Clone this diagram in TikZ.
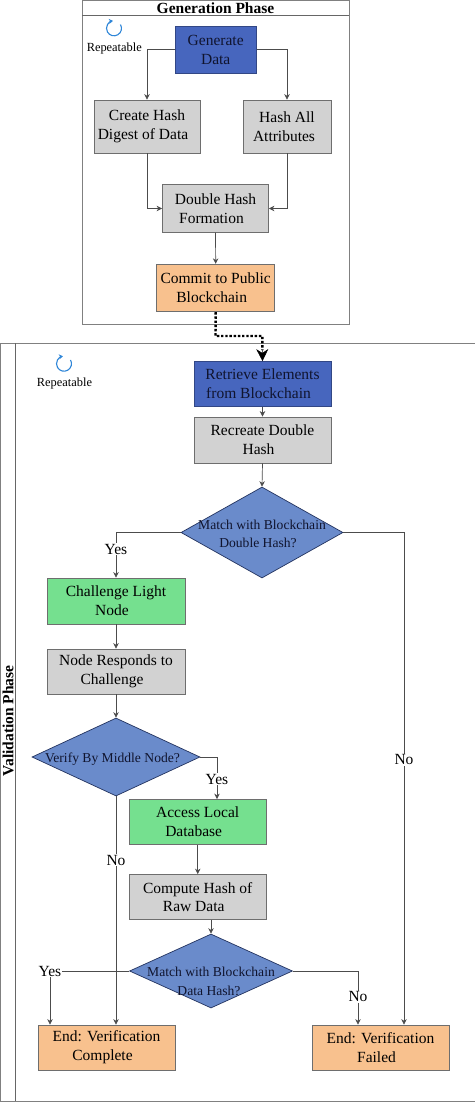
\documentclass[tikz,border=0pt]{standalone}
\usepackage{fontspec}
\setmainfont{Liberation Serif}
\usetikzlibrary{shapes.geometric,arrows.meta}
\definecolor{bluedark}{HTML}{4766BE}
\definecolor{bluedia}{HTML}{6A8BCB}
\definecolor{boxgray}{HTML}{D2D2D2}
\definecolor{boxorange}{HTML}{F8C18E}
\definecolor{boxgreen}{HTML}{75E08F}
\definecolor{edgegray}{HTML}{6E6E6E}
\definecolor{framegray}{HTML}{808080}
\definecolor{iconblue}{HTML}{2F86D8}
\definecolor{inkdark}{HTML}{10142E}
\newcommand{\DT}[2]{\makebox[0pt]{\smash{\raisebox{#1pt}{\begin{tabular}{@{}c@{}}#2\end{tabular}}}}}
\newcommand{\SH}[1]{\kern#1pt}
\tikzset{
  x=1pt,y=-1pt,
  flowbox/.style={draw=edgegray,line width=0.8pt,inner sep=0pt,align=center,
    font=\fontsize{15.5}{18.7}\selectfont,text=black},
  bluebox/.style={flowbox,fill=bluedark,draw=bluedark!70!black,text=inkdark},
  graybox/.style={flowbox,fill=boxgray},
  orangebox/.style={flowbox,fill=boxorange},
  greenbox/.style={flowbox,fill=boxgreen},
  decision/.style={diamond,draw=bluedark!50!black,line width=0.7pt,fill=bluedia,inner sep=0pt,
    font=\fontsize{13.6}{18.7}\selectfont,text=inkdark},
  link/.style={draw=black!70,line width=0.7pt,-{Stealth[length=5.5pt,width=5.5pt]}},
  branch/.style={fill=white,inner sep=1pt,font=\fontsize{15.5}{18}\selectfont},
  frame/.style={draw=framegray,line width=1pt},
  divider/.style={draw=black!60,line width=0.7pt},
  repeattext/.style={font=\fontsize{12.4}{14}\selectfont,inner sep=0pt},
  phase/.style={font=\bfseries\fontsize{15.5}{18}\selectfont,inner sep=0pt},
  repeaticon/.style={draw=iconblue,line width=1.1pt,-{Stealth[length=4pt,width=5pt]}},
  handoff/.style={draw=black,line width=2.4pt,dash pattern=on 2.4pt off 1.8pt},
}
\begin{document}
\begin{tikzpicture}
\useasboundingbox (0,0) rectangle (474,1102);
\fill[white] (0,0) rectangle (474,1102);

% frames
\draw[frame] (82,0.7) rectangle (349,324);
\draw[divider] (82,15.3) -- (349,15.3);
\node[phase] (gentitle) at (215.5,8.5) {Generation Phase};
\draw[frame] (474.5,343) -- (0.7,343) -- (0.7,1101) -- (474.5,1101);
\draw[divider] (15.5,343) -- (15.5,1101);
\node[phase,rotate=90] (valtitle) at (8,721) {Validation Phase};

% repeat icons
\draw[repeaticon] (114,28.3) ++(30:7.5pt) arc[start angle=30,end angle=-262,radius=7.5pt];
\node[repeattext] (rep1) at (114.3,48.5) {Repeatable};
\draw[repeaticon] (64,363.7) ++(30:7.5pt) arc[start angle=30,end angle=-262,radius=7.5pt];
\node[repeattext] (rep2) at (64.5,384) {Repeatable};

% generation nodes
\node[bluebox,minimum width=81.5pt,minimum height=47.5pt] (gen) at (215.7,49.7) {Generate\\Data};
\node[graybox,minimum width=106pt,minimum height=53pt] (hashd) at (147,126.5) {Create Hash\\Digest of Data\SH{8}};
\node[graybox,minimum width=88pt,minimum height=53pt] (hasha) at (287,126.5) {Hash All\\Attributes\SH{6}};
\node[graybox,minimum width=106pt,minimum height=47.5pt] (dbl) at (215.5,208.5) {Double Hash\\Formation\SH{8}};
\node[orangebox,minimum width=118pt,minimum height=47.5pt] (commit) at (215.7,288) {Commit to Public\\Blockchain\SH{8}};

% validation nodes
\node[bluebox,minimum width=137pt,minimum height=45pt] (retr) at (262.5,384) {Retrieve Elements\\from Blockchain\SH{8}};
\node[graybox,minimum width=137pt,minimum height=46pt] (recr) at (262.5,440) {Recreate Double\\Hash\SH{8}};
\node[decision,minimum width=162pt,minimum height=91pt] (d1) at (262,532.5) {\DT{-6}{Match with Blockchain\\Double Hash?\SH{8}}};
\node[greenbox,minimum width=138pt,minimum height=46pt] (chal) at (116,601) {Challenge Light\\Node\SH{8}};
\node[graybox,minimum width=138pt,minimum height=45pt] (resp) at (116,671.5) {Node Responds to\\Challenge\SH{8}};
\node[decision,minimum width=168pt,minimum height=78pt] (d2) at (116,757) {\DT{-5}{Verify By Middle Node?\SH{7}}};
\node[greenbox,minimum width=137pt,minimum height=45pt] (acc) at (197.7,822) {Access Local\\Database\SH{8}};
\node[graybox,minimum width=137pt,minimum height=45pt] (comp) at (197.7,897) {Compute Hash of\\Raw Data\SH{8}};
\node[decision,minimum width=163pt,minimum height=74pt] (d3) at (211,971) {\DT{-14.5}{Match with Blockchain\\Data Hash?\SH{4}}};
\node[orangebox,minimum width=137pt,minimum height=45pt] (endok) at (106.5,1047.5) {End: Verification\\Complete\SH{8}};
\node[orangebox,minimum width=137pt,minimum height=45pt] (endno) at (380.5,1047.5) {End: Verification\\Failed\SH{8}};

% generation connectors
\draw[link] (gen.west) -| (hashd.north);
\draw[link] (gen.east) -| (hasha.north);
\draw[link] (hashd.south) |- (dbl.west);
\draw[link] (hasha.south) |- (dbl.east);
\draw[link] (dbl.south) -- (commit.north);
\coordinate (hand1) at (215.5,336);
\coordinate (hand2) at (262.3,350);
\draw[handoff] (commit.south) -- (hand1) -| (hand2);
\draw[black,line width=0.5pt,-{Stealth[length=12pt,width=12pt]}] (hand2) -- (retr.north);

% validation connectors
\draw[link] (retr.south) -- (recr.north);
\draw[link] (recr.south) -- (d1.north);
\draw[link] (d1.west) -| node[branch,pos=0.685] (yes1) {Yes} (chal.north);
\draw[link] (d1.east) -| node[branch,pos=0.731] (no1) {No} ([xshift=23.5pt]endno.north);
\draw[link] (chal.south) -- (resp.north);
\draw[link] (resp.south) -- (d2.north);
\draw[link] (d2.east) -| node[branch,pos=0.762] (yes2) {Yes} ([xshift=19.3pt]acc.north);
\draw[link] (d2.south) -- node[branch,pos=0.28] (no2) {No} ([xshift=9.5pt]endok.north);
\draw[link] (acc.south) -- (comp.north);
\draw[link] (comp.south-|d3.north) -- (d3.north);
\draw[link] (d3.west) -| node[branch,pos=0.5] (yes3) {Yes} ([xshift=-56.5pt]endok.north);
\draw[link] (d3.east) -| node[branch,pos=0.74] (no3) {No} ([xshift=-22.5pt]endno.north);
\end{tikzpicture}
\end{document}
